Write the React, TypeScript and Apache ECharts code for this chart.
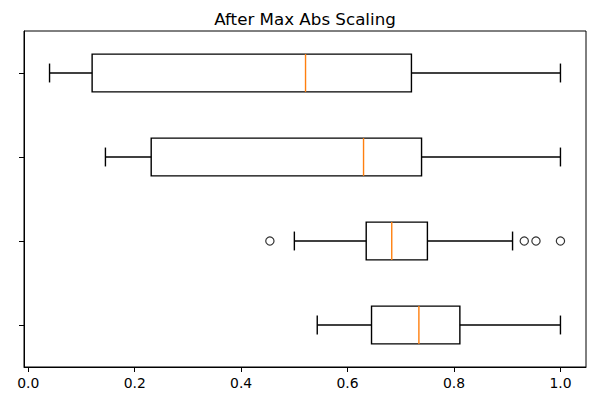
import React, { useEffect, useRef } from "react";
import * as echarts from "echarts";

const categories = ["1", "2", "3", "4"];
const mins = [0.543, 0.5, 0.145, 0.04];
const q1s = [0.645, 0.635, 0.231, 0.12];
const medians = [0.734, 0.683, 0.63, 0.521];
const q3s = [0.811, 0.75, 0.739, 0.72];
const maxs = [1.0, 0.91, 1.0, 1.0];
const outliers: [number, number][] = [
  [0.454, 1],
  [0.932, 1],
  [0.954, 1],
  [1.0, 1],
];
const xTicks = [0, 0.2, 0.4, 0.6, 0.8, 1.0];
const title = "After Max Abs Scaling";

export default function App() {
  const ref = useRef<HTMLDivElement>(null);
  useEffect(() => {
    document.body.style.margin = "0";
    const chart = echarts.init(ref.current!, null, { renderer: "svg" });
    const boxData = categories.map((_, i) => [i, mins[i], q1s[i], medians[i], q3s[i], maxs[i]]);
    const lw = 1.4;
    const font = "DejaVu Sans";
    chart.setOption({
      animation: false,
      backgroundColor: "#fff",
      grid: {
        left: 24,
        right: 22,
        top: 31,
        bottom: 29,
        show: true,
        borderColor: "#000",
        borderWidth: 1,
        containLabel: false,
      },
      graphic: [
        {
          type: "text",
          x: 305,
          y: 27,
          style: {
            text: title,
            fontFamily: font,
            fontSize: 16.7,
            fill: "#000",
            textAlign: "center",
            textVerticalAlign: "bottom",
          },
        },
      ],
      xAxis: {
        type: "value",
        min: -0.008,
        max: 1.048,
        splitLine: { show: false },
        axisLine: { show: true, onZero: false, lineStyle: { color: "#000", width: 1 } },
        axisTick: {
          show: true,
          length: 5,
          customValues: xTicks,
          lineStyle: { color: "#000", width: 1 },
        },
        axisLabel: {
          customValues: xTicks,
          margin: 9,
          color: "#000",
          fontFamily: font,
          fontSize: 13.9,
          formatter: (v: number) => v.toFixed(1),
        },
      },
      yAxis: {
        type: "category",
        data: categories,
        boundaryGap: true,
        axisLine: { show: true, onZero: false, lineStyle: { color: "#000", width: 1 } },
        axisTick: {
          show: true,
          alignWithLabel: true,
          length: 5,
          lineStyle: { color: "#000", width: 1 },
        },
        axisLabel: { show: false },
        splitLine: { show: false },
      },
      series: [
        {
          type: "custom",
          data: boxData,
          encode: { x: [1, 2, 3, 4, 5], y: 0 },
          renderItem: (params: any, api: any) => {
            const c = api.value(0);
            const band = api.size([0, 1])[1];
            const h = band * 0.45;
            const cap = h * 0.5;
            const pMin = api.coord([api.value(1), c]);
            const pQ1 = api.coord([api.value(2), c]);
            const pMed = api.coord([api.value(3), c]);
            const pQ3 = api.coord([api.value(4), c]);
            const pMax = api.coord([api.value(5), c]);
            const y = pMin[1];
            const stroke = { stroke: "#000", lineWidth: lw, fill: "none" };
            return {
              type: "group",
              children: [
                { type: "line", shape: { x1: pMin[0], y1: y, x2: pQ1[0], y2: y }, style: stroke },
                { type: "line", shape: { x1: pQ3[0], y1: y, x2: pMax[0], y2: y }, style: stroke },
                { type: "line", shape: { x1: pMin[0], y1: y - cap / 2, x2: pMin[0], y2: y + cap / 2 }, style: stroke },
                { type: "line", shape: { x1: pMax[0], y1: y - cap / 2, x2: pMax[0], y2: y + cap / 2 }, style: stroke },
                {
                  type: "rect",
                  shape: { x: pQ1[0], y: y - h / 2, width: pQ3[0] - pQ1[0], height: h },
                  style: { stroke: "#000", lineWidth: lw, fill: "none" },
                },
                {
                  type: "line",
                  shape: { x1: pMed[0], y1: y - h / 2, x2: pMed[0], y2: y + h / 2 },
                  style: { stroke: "#ff7f0e", lineWidth: lw },
                },
              ],
            };
          },
          z: 3,
        },
        {
          type: "scatter",
          data: outliers,
          symbol: "circle",
          symbolSize: 8.3,
          itemStyle: { color: "rgba(0,0,0,0)", borderColor: "#000", borderWidth: 1.2 },
          z: 4,
        },
      ],
    });
    return () => chart.dispose();
  }, []);
  return <div ref={ref} style={{ width: 608, height: 396 }} />;
}
